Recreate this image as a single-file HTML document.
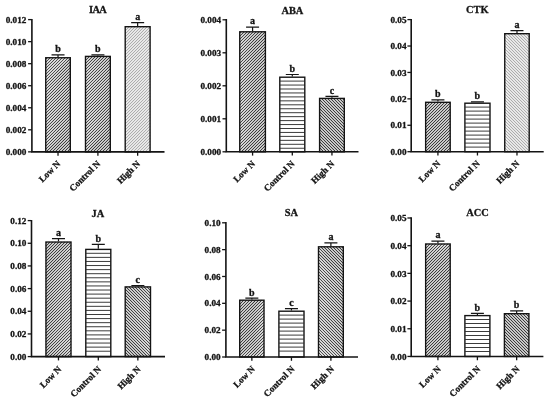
<!DOCTYPE html>
<html lang="en"><head><meta charset="utf-8"><title>Hormone contents under Low N, Control N and High N</title>
<style>
html,body{margin:0;padding:0;background:#fff;}
svg{display:block;}
text{font-family:"Liberation Serif","DejaVu Serif",serif;font-weight:bold;fill:#141414;stroke:#141414;stroke-width:0.3px;}
.t{font-size:10.4px;text-anchor:middle;}
.y{font-size:9.2px;text-anchor:end;}
.x{font-size:9.2px;text-anchor:end;}
.l{font-size:10px;text-anchor:middle;}
</style></head><body>
<svg width="550" height="404" viewBox="0 0 550 404">
<rect width="550" height="404" fill="#fff"/>

<g>
<text class="t" x="97.6" y="13.3" letter-spacing="-0.6">IAA</text>
<path d="M45.75 59.25L47.25 57.75M45.75 62.25L50.25 57.75M45.75 65.25L53.25 57.75M45.75 68.25L56.25 57.75M45.75 71.25L59.25 57.75M45.75 74.25L62.25 57.75M45.75 77.25L65.25 57.75M45.75 80.25L68.25 57.75M45.75 83.25L70.30 58.70M45.75 86.25L70.30 61.70M45.75 89.25L70.30 64.70M45.75 92.25L70.30 67.70M45.75 95.25L70.30 70.70M45.75 98.25L70.30 73.70M45.75 101.25L70.30 76.70M45.75 104.25L70.30 79.70M45.75 107.25L70.30 82.70M45.75 110.25L70.30 85.70M45.75 113.25L70.30 88.70M45.75 116.25L70.30 91.70M45.75 119.25L70.30 94.70M45.75 122.25L70.30 97.70M45.75 125.25L70.30 100.70M45.75 128.25L70.30 103.70M45.75 131.25L70.30 106.70M45.75 134.25L70.30 109.70M45.75 137.25L70.30 112.70M45.75 140.25L70.30 115.70M45.75 143.25L70.30 118.70M45.75 146.25L70.30 121.70M45.75 149.25L70.30 124.70M46.15 151.85L70.30 127.70M49.15 151.85L70.30 130.70M52.15 151.85L70.30 133.70M55.15 151.85L70.30 136.70M58.15 151.85L70.30 139.70M61.15 151.85L70.30 142.70M64.15 151.85L70.30 145.70M67.15 151.85L70.30 148.70M70.15 151.85L70.30 151.70" stroke="#303030" stroke-width="1.02" fill="none"/>
<rect x="45.75" y="57.75" width="24.55" height="94.10" fill="none" stroke="#141414" stroke-width="1.4"/>
<path d="M58.02 57.05V54.80M51.52 54.80H64.53" stroke="#141414" stroke-width="1.2" fill="none"/>
<text class="l" x="58.0" y="51.6">b</text>
<path d="M58.02 151.85V155.65" stroke="#141414" stroke-width="1.3"/>
<text class="x" transform="translate(61.0 164.2) rotate(-45)">Low N</text>
<path d="M85.50 57.50L86.60 56.40M85.50 60.50L89.60 56.40M85.50 63.50L92.60 56.40M85.50 66.50L95.60 56.40M85.50 69.50L98.60 56.40M85.50 72.50L101.60 56.40M85.50 75.50L104.60 56.40M85.50 78.50L107.60 56.40M85.50 81.50L110.30 56.70M85.50 84.50L110.30 59.70M85.50 87.50L110.30 62.70M85.50 90.50L110.30 65.70M85.50 93.50L110.30 68.70M85.50 96.50L110.30 71.70M85.50 99.50L110.30 74.70M85.50 102.50L110.30 77.70M85.50 105.50L110.30 80.70M85.50 108.50L110.30 83.70M85.50 111.50L110.30 86.70M85.50 114.50L110.30 89.70M85.50 117.50L110.30 92.70M85.50 120.50L110.30 95.70M85.50 123.50L110.30 98.70M85.50 126.50L110.30 101.70M85.50 129.50L110.30 104.70M85.50 132.50L110.30 107.70M85.50 135.50L110.30 110.70M85.50 138.50L110.30 113.70M85.50 141.50L110.30 116.70M85.50 144.50L110.30 119.70M85.50 147.50L110.30 122.70M85.50 150.50L110.30 125.70M87.15 151.85L110.30 128.70M90.15 151.85L110.30 131.70M93.15 151.85L110.30 134.70M96.15 151.85L110.30 137.70M99.15 151.85L110.30 140.70M102.15 151.85L110.30 143.70M105.15 151.85L110.30 146.70M108.15 151.85L110.30 149.70" stroke="#303030" stroke-width="1.02" fill="none"/>
<rect x="85.50" y="56.40" width="24.80" height="95.45" fill="none" stroke="#141414" stroke-width="1.4"/>
<path d="M97.90 55.70V54.80M91.40 54.80H104.40" stroke="#141414" stroke-width="1.2" fill="none"/>
<text class="l" x="97.9" y="51.9">b</text>
<path d="M97.90 151.85V155.65" stroke="#141414" stroke-width="1.3"/>
<text class="x" transform="translate(100.9 164.2) rotate(-45)">Control N</text>
<path d="M125.20 27.80L126.30 26.70M125.20 30.80L129.30 26.70M125.20 33.80L132.30 26.70M125.20 36.80L135.30 26.70M125.20 39.80L138.30 26.70M125.20 42.80L141.30 26.70M125.20 45.80L144.30 26.70M125.20 48.80L147.30 26.70M125.20 51.80L150.10 26.90M125.20 54.80L150.10 29.90M125.20 57.80L150.10 32.90M125.20 60.80L150.10 35.90M125.20 63.80L150.10 38.90M125.20 66.80L150.10 41.90M125.20 69.80L150.10 44.90M125.20 72.80L150.10 47.90M125.20 75.80L150.10 50.90M125.20 78.80L150.10 53.90M125.20 81.80L150.10 56.90M125.20 84.80L150.10 59.90M125.20 87.80L150.10 62.90M125.20 90.80L150.10 65.90M125.20 93.80L150.10 68.90M125.20 96.80L150.10 71.90M125.20 99.80L150.10 74.90M125.20 102.80L150.10 77.90M125.20 105.80L150.10 80.90M125.20 108.80L150.10 83.90M125.20 111.80L150.10 86.90M125.20 114.80L150.10 89.90M125.20 117.80L150.10 92.90M125.20 120.80L150.10 95.90M125.20 123.80L150.10 98.90M125.20 126.80L150.10 101.90M125.20 129.80L150.10 104.90M125.20 132.80L150.10 107.90M125.20 135.80L150.10 110.90M125.20 138.80L150.10 113.90M125.20 141.80L150.10 116.90M125.20 144.80L150.10 119.90M125.20 147.80L150.10 122.90M125.20 150.80L150.10 125.90M127.15 151.85L150.10 128.90M130.15 151.85L150.10 131.90M133.15 151.85L150.10 134.90M136.15 151.85L150.10 137.90M139.15 151.85L150.10 140.90M142.15 151.85L150.10 143.90M145.15 151.85L150.10 146.90M148.15 151.85L150.10 149.90" stroke="#a8a8a8" stroke-width="1.02" fill="none"/>
<rect x="125.20" y="26.70" width="24.90" height="125.15" fill="none" stroke="#141414" stroke-width="1.4"/>
<path d="M137.65 26.00V22.70M131.15 22.70H144.15" stroke="#141414" stroke-width="1.2" fill="none"/>
<text class="l" x="137.7" y="20.3">a</text>
<path d="M137.65 151.85V155.65" stroke="#141414" stroke-width="1.3"/>
<text class="x" transform="translate(140.7 164.2) rotate(-45)">High N</text>
<path d="M31.90 18.90V152.55M31.20 151.85H164.50" stroke="#141414" stroke-width="1.6" fill="none"/>
<path d="M28.10 151.85H31.90" stroke="#141414" stroke-width="1.3"/>
<text class="y" x="26.4" y="154.9">0.000</text>
<path d="M28.10 129.81H31.90" stroke="#141414" stroke-width="1.3"/>
<text class="y" x="26.4" y="132.9">0.002</text>
<path d="M28.10 107.77H31.90" stroke="#141414" stroke-width="1.3"/>
<text class="y" x="26.4" y="110.9">0.004</text>
<path d="M28.10 85.72H31.90" stroke="#141414" stroke-width="1.3"/>
<text class="y" x="26.4" y="88.8">0.006</text>
<path d="M28.10 63.68H31.90" stroke="#141414" stroke-width="1.3"/>
<text class="y" x="26.4" y="66.8">0.008</text>
<path d="M28.10 41.64H31.90" stroke="#141414" stroke-width="1.3"/>
<text class="y" x="26.4" y="44.7">0.010</text>
<path d="M28.10 19.60H31.90" stroke="#141414" stroke-width="1.3"/>
<text class="y" x="26.4" y="22.7">0.012</text>
</g>
<g>
<text class="t" x="292.4" y="13.6">ABA</text>
<path d="M239.75 33.25L241.20 31.80M239.75 36.25L244.20 31.80M239.75 39.25L247.20 31.80M239.75 42.25L250.20 31.80M239.75 45.25L253.20 31.80M239.75 48.25L256.20 31.80M239.75 51.25L259.20 31.80M239.75 54.25L262.20 31.80M239.75 57.25L265.20 31.80M239.75 60.25L265.40 34.60M239.75 63.25L265.40 37.60M239.75 66.25L265.40 40.60M239.75 69.25L265.40 43.60M239.75 72.25L265.40 46.60M239.75 75.25L265.40 49.60M239.75 78.25L265.40 52.60M239.75 81.25L265.40 55.60M239.75 84.25L265.40 58.60M239.75 87.25L265.40 61.60M239.75 90.25L265.40 64.60M239.75 93.25L265.40 67.60M239.75 96.25L265.40 70.60M239.75 99.25L265.40 73.60M239.75 102.25L265.40 76.60M239.75 105.25L265.40 79.60M239.75 108.25L265.40 82.60M239.75 111.25L265.40 85.60M239.75 114.25L265.40 88.60M239.75 117.25L265.40 91.60M239.75 120.25L265.40 94.60M239.75 123.25L265.40 97.60M239.75 126.25L265.40 100.60M239.75 129.25L265.40 103.60M239.75 132.25L265.40 106.60M239.75 135.25L265.40 109.60M239.75 138.25L265.40 112.60M239.75 141.25L265.40 115.60M239.75 144.25L265.40 118.60M239.75 147.25L265.40 121.60M239.75 150.25L265.40 124.60M241.20 151.80L265.40 127.60M244.20 151.80L265.40 130.60M247.20 151.80L265.40 133.60M250.20 151.80L265.40 136.60M253.20 151.80L265.40 139.60M256.20 151.80L265.40 142.60M259.20 151.80L265.40 145.60M262.20 151.80L265.40 148.60M265.20 151.80L265.40 151.60" stroke="#303030" stroke-width="1.02" fill="none"/>
<rect x="239.75" y="31.80" width="25.65" height="120.00" fill="none" stroke="#141414" stroke-width="1.4"/>
<path d="M252.58 31.10V27.05M246.08 27.05H259.08" stroke="#141414" stroke-width="1.2" fill="none"/>
<text class="l" x="252.6" y="24.1">a</text>
<path d="M252.58 151.80V155.60" stroke="#141414" stroke-width="1.3"/>
<text class="x" transform="translate(255.6 164.2) rotate(-45)">Low N</text>
<rect x="279.80" y="77.20" width="25.00" height="74.60" fill="#fff"/>
<path d="M280.10 81.10H304.50M280.10 85.05H304.50M280.10 89.00H304.50M280.10 92.95H304.50M280.10 96.90H304.50M280.10 100.85H304.50M280.10 104.80H304.50M280.10 108.75H304.50M280.10 112.70H304.50M280.10 116.65H304.50M280.10 120.60H304.50M280.10 124.55H304.50M280.10 128.50H304.50M280.10 132.45H304.50M280.10 136.40H304.50M280.10 140.35H304.50M280.10 144.30H304.50M280.10 148.25H304.50" stroke="#3c3c3c" stroke-width="1" fill="none"/>
<rect x="279.80" y="77.20" width="25.00" height="74.60" fill="none" stroke="#141414" stroke-width="1.4"/>
<path d="M292.30 76.50V74.50M285.80 74.50H298.80" stroke="#141414" stroke-width="1.2" fill="none"/>
<text class="l" x="292.3" y="72.0">b</text>
<path d="M292.30 151.80V155.60" stroke="#141414" stroke-width="1.3"/>
<text class="x" transform="translate(295.3 164.2) rotate(-45)">Control N</text>
<path d="M319.60 150.60L320.80 151.80M319.60 147.60L323.80 151.80M319.60 144.60L326.80 151.80M319.60 141.60L329.80 151.80M319.60 138.60L332.80 151.80M319.60 135.60L335.80 151.80M319.60 132.60L338.80 151.80M319.60 129.60L341.80 151.80M319.60 126.60L344.30 151.30M319.60 123.60L344.30 148.30M319.60 120.60L344.30 145.30M319.60 117.60L344.30 142.30M319.60 114.60L344.30 139.30M319.60 111.60L344.30 136.30M319.60 108.60L344.30 133.30M319.60 105.60L344.30 130.30M319.60 102.60L344.30 127.30M319.60 99.60L344.30 124.30M321.40 98.40L344.30 121.30M324.40 98.40L344.30 118.30M327.40 98.40L344.30 115.30M330.40 98.40L344.30 112.30M333.40 98.40L344.30 109.30M336.40 98.40L344.30 106.30M339.40 98.40L344.30 103.30M342.40 98.40L344.30 100.30" stroke="#303030" stroke-width="1.02" fill="none"/>
<rect x="319.60" y="98.40" width="24.70" height="53.40" fill="none" stroke="#141414" stroke-width="1.4"/>
<path d="M331.95 97.70V96.40M325.45 96.40H338.45" stroke="#141414" stroke-width="1.2" fill="none"/>
<text class="l" x="331.9" y="94.4">c</text>
<path d="M331.95 151.80V155.60" stroke="#141414" stroke-width="1.3"/>
<text class="x" transform="translate(334.9 164.2) rotate(-45)">High N</text>
<path d="M226.30 19.10V152.50M225.60 151.80H358.50" stroke="#141414" stroke-width="1.6" fill="none"/>
<path d="M222.50 151.80H226.30" stroke="#141414" stroke-width="1.3"/>
<text class="y" x="221.1" y="154.9">0.000</text>
<path d="M222.50 118.80H226.30" stroke="#141414" stroke-width="1.3"/>
<text class="y" x="221.1" y="121.9">0.001</text>
<path d="M222.50 85.80H226.30" stroke="#141414" stroke-width="1.3"/>
<text class="y" x="221.1" y="88.9">0.002</text>
<path d="M222.50 52.80H226.30" stroke="#141414" stroke-width="1.3"/>
<text class="y" x="221.1" y="55.9">0.003</text>
<path d="M222.50 19.80H226.30" stroke="#141414" stroke-width="1.3"/>
<text class="y" x="221.1" y="22.9">0.004</text>
</g>
<g>
<text class="t" x="477.3" y="13.3">CTK</text>
<path d="M425.65 103.35L426.70 102.30M425.65 106.35L429.70 102.30M425.65 109.35L432.70 102.30M425.65 112.35L435.70 102.30M425.65 115.35L438.70 102.30M425.65 118.35L441.70 102.30M425.65 121.35L444.70 102.30M425.65 124.35L447.70 102.30M425.65 127.35L450.20 102.80M425.65 130.35L450.20 105.80M425.65 133.35L450.20 108.80M425.65 136.35L450.20 111.80M425.65 139.35L450.20 114.80M425.65 142.35L450.20 117.80M425.65 145.35L450.20 120.80M425.65 148.35L450.20 123.80M425.65 151.35L450.20 126.80M428.30 151.70L450.20 129.80M431.30 151.70L450.20 132.80M434.30 151.70L450.20 135.80M437.30 151.70L450.20 138.80M440.30 151.70L450.20 141.80M443.30 151.70L450.20 144.80M446.30 151.70L450.20 147.80M449.30 151.70L450.20 150.80" stroke="#303030" stroke-width="1.02" fill="none"/>
<rect x="425.65" y="102.30" width="24.55" height="49.40" fill="none" stroke="#141414" stroke-width="1.4"/>
<path d="M437.92 101.60V99.80M431.42 99.80H444.42" stroke="#141414" stroke-width="1.2" fill="none"/>
<text class="l" x="437.9" y="97.3">b</text>
<path d="M437.92 151.70V155.50" stroke="#141414" stroke-width="1.3"/>
<text class="x" transform="translate(440.9 164.1) rotate(-45)">Low N</text>
<rect x="464.90" y="103.20" width="25.10" height="48.50" fill="#fff"/>
<path d="M465.20 107.10H489.70M465.20 111.10H489.70M465.20 115.10H489.70M465.20 119.10H489.70M465.20 123.10H489.70M465.20 127.10H489.70M465.20 131.10H489.70M465.20 135.10H489.70M465.20 139.10H489.70M465.20 143.10H489.70M465.20 147.10H489.70" stroke="#3c3c3c" stroke-width="1" fill="none"/>
<rect x="464.90" y="103.20" width="25.10" height="48.50" fill="none" stroke="#141414" stroke-width="1.4"/>
<path d="M477.45 102.50V101.90M470.95 101.90H483.95" stroke="#141414" stroke-width="1.2" fill="none"/>
<text class="l" x="477.4" y="98.8">b</text>
<path d="M477.45 151.70V155.50" stroke="#141414" stroke-width="1.3"/>
<text class="x" transform="translate(480.4 164.1) rotate(-45)">Control N</text>
<path d="M504.75 150.75L505.70 151.70M504.75 147.75L508.70 151.70M504.75 144.75L511.70 151.70M504.75 141.75L514.70 151.70M504.75 138.75L517.70 151.70M504.75 135.75L520.70 151.70M504.75 132.75L523.70 151.70M504.75 129.75L526.70 151.70M504.75 126.75L529.20 151.20M504.75 123.75L529.20 148.20M504.75 120.75L529.20 145.20M504.75 117.75L529.20 142.20M504.75 114.75L529.20 139.20M504.75 111.75L529.20 136.20M504.75 108.75L529.20 133.20M504.75 105.75L529.20 130.20M504.75 102.75L529.20 127.20M504.75 99.75L529.20 124.20M504.75 96.75L529.20 121.20M504.75 93.75L529.20 118.20M504.75 90.75L529.20 115.20M504.75 87.75L529.20 112.20M504.75 84.75L529.20 109.20M504.75 81.75L529.20 106.20M504.75 78.75L529.20 103.20M504.75 75.75L529.20 100.20M504.75 72.75L529.20 97.20M504.75 69.75L529.20 94.20M504.75 66.75L529.20 91.20M504.75 63.75L529.20 88.20M504.75 60.75L529.20 85.20M504.75 57.75L529.20 82.20M504.75 54.75L529.20 79.20M504.75 51.75L529.20 76.20M504.75 48.75L529.20 73.20M504.75 45.75L529.20 70.20M504.75 42.75L529.20 67.20M504.75 39.75L529.20 64.20M504.75 36.75L529.20 61.20M504.75 33.75L529.20 58.20M507.70 33.70L529.20 55.20M510.70 33.70L529.20 52.20M513.70 33.70L529.20 49.20M516.70 33.70L529.20 46.20M519.70 33.70L529.20 43.20M522.70 33.70L529.20 40.20M525.70 33.70L529.20 37.20M528.70 33.70L529.20 34.20" stroke="#a8a8a8" stroke-width="1.02" fill="none"/>
<rect x="504.75" y="33.70" width="24.45" height="118.00" fill="none" stroke="#141414" stroke-width="1.4"/>
<path d="M516.98 33.00V30.60M510.48 30.60H523.48" stroke="#141414" stroke-width="1.2" fill="none"/>
<text class="l" x="517.0" y="28.2">a</text>
<path d="M516.98 151.70V155.50" stroke="#141414" stroke-width="1.3"/>
<text class="x" transform="translate(520.0 164.1) rotate(-45)">High N</text>
<path d="M411.20 18.90V152.40M410.50 151.70H543.70" stroke="#141414" stroke-width="1.6" fill="none"/>
<path d="M407.40 151.70H411.20" stroke="#141414" stroke-width="1.3"/>
<text class="y" x="406.5" y="154.8">0.00</text>
<path d="M407.40 125.28H411.20" stroke="#141414" stroke-width="1.3"/>
<text class="y" x="406.5" y="128.4">0.01</text>
<path d="M407.40 98.86H411.20" stroke="#141414" stroke-width="1.3"/>
<text class="y" x="406.5" y="102.0">0.02</text>
<path d="M407.40 72.44H411.20" stroke="#141414" stroke-width="1.3"/>
<text class="y" x="406.5" y="75.5">0.03</text>
<path d="M407.40 46.02H411.20" stroke="#141414" stroke-width="1.3"/>
<text class="y" x="406.5" y="49.1">0.04</text>
<path d="M407.40 19.60H411.20" stroke="#141414" stroke-width="1.3"/>
<text class="y" x="406.5" y="22.7">0.05</text>
</g>
<g>
<text class="t" x="97.8" y="216.5">JA</text>
<path d="M45.95 243.05L46.95 242.05M45.95 246.05L49.95 242.05M45.95 249.05L52.95 242.05M45.95 252.05L55.95 242.05M45.95 255.05L58.95 242.05M45.95 258.05L61.95 242.05M45.95 261.05L64.95 242.05M45.95 264.05L67.95 242.05M45.95 267.05L70.95 242.05M45.95 270.05L71.00 245.00M45.95 273.05L71.00 248.00M45.95 276.05L71.00 251.00M45.95 279.05L71.00 254.00M45.95 282.05L71.00 257.00M45.95 285.05L71.00 260.00M45.95 288.05L71.00 263.00M45.95 291.05L71.00 266.00M45.95 294.05L71.00 269.00M45.95 297.05L71.00 272.00M45.95 300.05L71.00 275.00M45.95 303.05L71.00 278.00M45.95 306.05L71.00 281.00M45.95 309.05L71.00 284.00M45.95 312.05L71.00 287.00M45.95 315.05L71.00 290.00M45.95 318.05L71.00 293.00M45.95 321.05L71.00 296.00M45.95 324.05L71.00 299.00M45.95 327.05L71.00 302.00M45.95 330.05L71.00 305.00M45.95 333.05L71.00 308.00M45.95 336.05L71.00 311.00M45.95 339.05L71.00 314.00M45.95 342.05L71.00 317.00M45.95 345.05L71.00 320.00M45.95 348.05L71.00 323.00M45.95 351.05L71.00 326.00M45.95 354.05L71.00 329.00M46.40 356.60L71.00 332.00M49.40 356.60L71.00 335.00M52.40 356.60L71.00 338.00M55.40 356.60L71.00 341.00M58.40 356.60L71.00 344.00M61.40 356.60L71.00 347.00M64.40 356.60L71.00 350.00M67.40 356.60L71.00 353.00M70.40 356.60L71.00 356.00" stroke="#303030" stroke-width="1.02" fill="none"/>
<rect x="45.95" y="242.05" width="25.05" height="114.55" fill="none" stroke="#141414" stroke-width="1.4"/>
<path d="M58.48 241.35V238.70M51.98 238.70H64.97" stroke="#141414" stroke-width="1.2" fill="none"/>
<text class="l" x="58.5" y="236.4">a</text>
<path d="M58.48 356.60V360.40" stroke="#141414" stroke-width="1.3"/>
<text class="x" transform="translate(62.0 369.8) rotate(-45)">Low N</text>
<rect x="85.80" y="249.40" width="25.00" height="107.20" fill="#fff"/>
<path d="M86.10 253.30H110.50M86.10 257.38H110.50M86.10 261.46H110.50M86.10 265.54H110.50M86.10 269.62H110.50M86.10 273.70H110.50M86.10 277.78H110.50M86.10 281.86H110.50M86.10 285.94H110.50M86.10 290.02H110.50M86.10 294.10H110.50M86.10 298.18H110.50M86.10 302.26H110.50M86.10 306.34H110.50M86.10 310.42H110.50M86.10 314.50H110.50M86.10 318.58H110.50M86.10 322.66H110.50M86.10 326.74H110.50M86.10 330.82H110.50M86.10 334.90H110.50M86.10 338.98H110.50M86.10 343.06H110.50M86.10 347.14H110.50M86.10 351.22H110.50" stroke="#3c3c3c" stroke-width="1" fill="none"/>
<rect x="85.80" y="249.40" width="25.00" height="107.20" fill="none" stroke="#141414" stroke-width="1.4"/>
<path d="M98.30 248.70V244.40M91.80 244.40H104.80" stroke="#141414" stroke-width="1.2" fill="none"/>
<text class="l" x="98.3" y="241.6">b</text>
<path d="M98.30 356.60V360.40" stroke="#141414" stroke-width="1.3"/>
<text class="x" transform="translate(101.8 369.8) rotate(-45)">Control N</text>
<path d="M125.20 355.20L126.60 356.60M125.20 352.20L129.60 356.60M125.20 349.20L132.60 356.60M125.20 346.20L135.60 356.60M125.20 343.20L138.60 356.60M125.20 340.20L141.60 356.60M125.20 337.20L144.60 356.60M125.20 334.20L147.60 356.60M125.20 331.20L150.50 356.50M125.20 328.20L150.50 353.50M125.20 325.20L150.50 350.50M125.20 322.20L150.50 347.50M125.20 319.20L150.50 344.50M125.20 316.20L150.50 341.50M125.20 313.20L150.50 338.50M125.20 310.20L150.50 335.50M125.20 307.20L150.50 332.50M125.20 304.20L150.50 329.50M125.20 301.20L150.50 326.50M125.20 298.20L150.50 323.50M125.20 295.20L150.50 320.50M125.20 292.20L150.50 317.50M125.20 289.20L150.50 314.50M125.90 286.90L150.50 311.50M128.90 286.90L150.50 308.50M131.90 286.90L150.50 305.50M134.90 286.90L150.50 302.50M137.90 286.90L150.50 299.50M140.90 286.90L150.50 296.50M143.90 286.90L150.50 293.50M146.90 286.90L150.50 290.50M149.90 286.90L150.50 287.50" stroke="#303030" stroke-width="1.02" fill="none"/>
<rect x="125.20" y="286.90" width="25.30" height="69.70" fill="none" stroke="#141414" stroke-width="1.4"/>
<path d="M137.85 286.20V285.50M131.35 285.50H144.35" stroke="#141414" stroke-width="1.2" fill="none"/>
<text class="l" x="137.8" y="283.1">c</text>
<path d="M137.85 356.60V360.40" stroke="#141414" stroke-width="1.3"/>
<text class="x" transform="translate(141.3 369.8) rotate(-45)">High N</text>
<path d="M31.50 219.90V357.30M30.80 356.60H165.00" stroke="#141414" stroke-width="1.6" fill="none"/>
<path d="M27.70 356.60H31.50" stroke="#141414" stroke-width="1.3"/>
<text class="y" x="26.4" y="359.7">0.00</text>
<path d="M27.70 333.93H31.50" stroke="#141414" stroke-width="1.3"/>
<text class="y" x="26.4" y="337.0">0.02</text>
<path d="M27.70 311.27H31.50" stroke="#141414" stroke-width="1.3"/>
<text class="y" x="26.4" y="314.4">0.04</text>
<path d="M27.70 288.60H31.50" stroke="#141414" stroke-width="1.3"/>
<text class="y" x="26.4" y="291.7">0.06</text>
<path d="M27.70 265.93H31.50" stroke="#141414" stroke-width="1.3"/>
<text class="y" x="26.4" y="269.0">0.08</text>
<path d="M27.70 243.27H31.50" stroke="#141414" stroke-width="1.3"/>
<text class="y" x="26.4" y="246.4">0.10</text>
<path d="M27.70 220.60H31.50" stroke="#141414" stroke-width="1.3"/>
<text class="y" x="26.4" y="223.7">0.12</text>
</g>
<g>
<text class="t" x="291.3" y="215.5">SA</text>
<path d="M239.70 301.30L240.80 300.20M239.70 304.30L243.80 300.20M239.70 307.30L246.80 300.20M239.70 310.30L249.80 300.20M239.70 313.30L252.80 300.20M239.70 316.30L255.80 300.20M239.70 319.30L258.80 300.20M239.70 322.30L261.80 300.20M239.70 325.30L264.00 301.00M239.70 328.30L264.00 304.00M239.70 331.30L264.00 307.00M239.70 334.30L264.00 310.00M239.70 337.30L264.00 313.00M239.70 340.30L264.00 316.00M239.70 343.30L264.00 319.00M239.70 346.30L264.00 322.00M239.70 349.30L264.00 325.00M239.70 352.30L264.00 328.00M239.70 355.30L264.00 331.00M241.00 357.00L264.00 334.00M244.00 357.00L264.00 337.00M247.00 357.00L264.00 340.00M250.00 357.00L264.00 343.00M253.00 357.00L264.00 346.00M256.00 357.00L264.00 349.00M259.00 357.00L264.00 352.00M262.00 357.00L264.00 355.00" stroke="#303030" stroke-width="1.02" fill="none"/>
<rect x="239.70" y="300.20" width="24.30" height="56.80" fill="none" stroke="#141414" stroke-width="1.4"/>
<path d="M251.85 299.50V298.05M245.35 298.05H258.35" stroke="#141414" stroke-width="1.2" fill="none"/>
<text class="l" x="251.8" y="295.5">b</text>
<path d="M251.85 357.00V360.80" stroke="#141414" stroke-width="1.3"/>
<text class="x" transform="translate(255.5 369.6) rotate(-45)">Low N</text>
<rect x="278.90" y="311.20" width="25.10" height="45.80" fill="#fff"/>
<path d="M279.20 315.10H303.70M279.20 319.10H303.70M279.20 323.10H303.70M279.20 327.10H303.70M279.20 331.10H303.70M279.20 335.10H303.70M279.20 339.10H303.70M279.20 343.10H303.70M279.20 347.10H303.70M279.20 351.10H303.70" stroke="#3c3c3c" stroke-width="1" fill="none"/>
<rect x="278.90" y="311.20" width="25.10" height="45.80" fill="none" stroke="#141414" stroke-width="1.4"/>
<path d="M291.45 310.50V308.70M284.95 308.70H297.95" stroke="#141414" stroke-width="1.2" fill="none"/>
<text class="l" x="291.4" y="305.9">c</text>
<path d="M291.45 357.00V360.80" stroke="#141414" stroke-width="1.3"/>
<text class="x" transform="translate(295.1 369.6) rotate(-45)">Control N</text>
<path d="M318.50 355.50L320.00 357.00M318.50 352.50L323.00 357.00M318.50 349.50L326.00 357.00M318.50 346.50L329.00 357.00M318.50 343.50L332.00 357.00M318.50 340.50L335.00 357.00M318.50 337.50L338.00 357.00M318.50 334.50L341.00 357.00M318.50 331.50L343.30 356.30M318.50 328.50L343.30 353.30M318.50 325.50L343.30 350.30M318.50 322.50L343.30 347.30M318.50 319.50L343.30 344.30M318.50 316.50L343.30 341.30M318.50 313.50L343.30 338.30M318.50 310.50L343.30 335.30M318.50 307.50L343.30 332.30M318.50 304.50L343.30 329.30M318.50 301.50L343.30 326.30M318.50 298.50L343.30 323.30M318.50 295.50L343.30 320.30M318.50 292.50L343.30 317.30M318.50 289.50L343.30 314.30M318.50 286.50L343.30 311.30M318.50 283.50L343.30 308.30M318.50 280.50L343.30 305.30M318.50 277.50L343.30 302.30M318.50 274.50L343.30 299.30M318.50 271.50L343.30 296.30M318.50 268.50L343.30 293.30M318.50 265.50L343.30 290.30M318.50 262.50L343.30 287.30M318.50 259.50L343.30 284.30M318.50 256.50L343.30 281.30M318.50 253.50L343.30 278.30M318.50 250.50L343.30 275.30M318.50 247.50L343.30 272.30M320.80 246.80L343.30 269.30M323.80 246.80L343.30 266.30M326.80 246.80L343.30 263.30M329.80 246.80L343.30 260.30M332.80 246.80L343.30 257.30M335.80 246.80L343.30 254.30M338.80 246.80L343.30 251.30M341.80 246.80L343.30 248.30" stroke="#303030" stroke-width="1.02" fill="none"/>
<rect x="318.50" y="246.80" width="24.80" height="110.20" fill="none" stroke="#141414" stroke-width="1.4"/>
<path d="M330.90 246.10V242.95M324.40 242.95H337.40" stroke="#141414" stroke-width="1.2" fill="none"/>
<text class="l" x="330.9" y="240.2">a</text>
<path d="M330.90 357.00V360.80" stroke="#141414" stroke-width="1.3"/>
<text class="x" transform="translate(334.6 369.6) rotate(-45)">High N</text>
<path d="M225.90 222.10V357.70M225.20 357.00H358.00" stroke="#141414" stroke-width="1.6" fill="none"/>
<path d="M222.10 357.00H225.90" stroke="#141414" stroke-width="1.3"/>
<text class="y" x="220.7" y="360.1">0.00</text>
<path d="M222.10 330.16H225.90" stroke="#141414" stroke-width="1.3"/>
<text class="y" x="220.7" y="333.3">0.02</text>
<path d="M222.10 303.32H225.90" stroke="#141414" stroke-width="1.3"/>
<text class="y" x="220.7" y="306.4">0.04</text>
<path d="M222.10 276.48H225.90" stroke="#141414" stroke-width="1.3"/>
<text class="y" x="220.7" y="279.6">0.06</text>
<path d="M222.10 249.64H225.90" stroke="#141414" stroke-width="1.3"/>
<text class="y" x="220.7" y="252.7">0.08</text>
<path d="M222.10 222.80H225.90" stroke="#141414" stroke-width="1.3"/>
<text class="y" x="220.7" y="225.9">0.10</text>
</g>
<g>
<text class="t" x="477.5" y="216.2">ACC</text>
<path d="M425.65 245.35L427.00 244.00M425.65 248.35L430.00 244.00M425.65 251.35L433.00 244.00M425.65 254.35L436.00 244.00M425.65 257.35L439.00 244.00M425.65 260.35L442.00 244.00M425.65 263.35L445.00 244.00M425.65 266.35L448.00 244.00M425.65 269.35L450.20 244.80M425.65 272.35L450.20 247.80M425.65 275.35L450.20 250.80M425.65 278.35L450.20 253.80M425.65 281.35L450.20 256.80M425.65 284.35L450.20 259.80M425.65 287.35L450.20 262.80M425.65 290.35L450.20 265.80M425.65 293.35L450.20 268.80M425.65 296.35L450.20 271.80M425.65 299.35L450.20 274.80M425.65 302.35L450.20 277.80M425.65 305.35L450.20 280.80M425.65 308.35L450.20 283.80M425.65 311.35L450.20 286.80M425.65 314.35L450.20 289.80M425.65 317.35L450.20 292.80M425.65 320.35L450.20 295.80M425.65 323.35L450.20 298.80M425.65 326.35L450.20 301.80M425.65 329.35L450.20 304.80M425.65 332.35L450.20 307.80M425.65 335.35L450.20 310.80M425.65 338.35L450.20 313.80M425.65 341.35L450.20 316.80M425.65 344.35L450.20 319.80M425.65 347.35L450.20 322.80M425.65 350.35L450.20 325.80M425.65 353.35L450.20 328.80M425.65 356.35L450.20 331.80M428.55 356.45L450.20 334.80M431.55 356.45L450.20 337.80M434.55 356.45L450.20 340.80M437.55 356.45L450.20 343.80M440.55 356.45L450.20 346.80M443.55 356.45L450.20 349.80M446.55 356.45L450.20 352.80M449.55 356.45L450.20 355.80" stroke="#303030" stroke-width="1.02" fill="none"/>
<rect x="425.65" y="244.00" width="24.55" height="112.45" fill="none" stroke="#141414" stroke-width="1.4"/>
<path d="M437.92 243.30V241.05M431.42 241.05H444.42" stroke="#141414" stroke-width="1.2" fill="none"/>
<text class="l" x="437.9" y="238.3">a</text>
<path d="M437.92 356.45V360.25" stroke="#141414" stroke-width="1.3"/>
<text class="x" transform="translate(441.4 369.6) rotate(-45)">Low N</text>
<rect x="464.90" y="315.60" width="25.00" height="40.85" fill="#fff"/>
<path d="M465.20 319.50H489.60M465.20 323.50H489.60M465.20 327.50H489.60M465.20 331.50H489.60M465.20 335.50H489.60M465.20 339.50H489.60M465.20 343.50H489.60M465.20 347.50H489.60M465.20 351.50H489.60" stroke="#3c3c3c" stroke-width="1" fill="none"/>
<rect x="464.90" y="315.60" width="25.00" height="40.85" fill="none" stroke="#141414" stroke-width="1.4"/>
<path d="M477.40 314.90V313.30M470.90 313.30H483.90" stroke="#141414" stroke-width="1.2" fill="none"/>
<text class="l" x="477.4" y="310.5">b</text>
<path d="M477.40 356.45V360.25" stroke="#141414" stroke-width="1.3"/>
<text class="x" transform="translate(480.9 369.6) rotate(-45)">Control N</text>
<path d="M504.40 355.40L505.45 356.45M504.40 352.40L508.45 356.45M504.40 349.40L511.45 356.45M504.40 346.40L514.45 356.45M504.40 343.40L517.45 356.45M504.40 340.40L520.45 356.45M504.40 337.40L523.45 356.45M504.40 334.40L526.45 356.45M504.40 331.40L528.90 355.90M504.40 328.40L528.90 352.90M504.40 325.40L528.90 349.90M504.40 322.40L528.90 346.90M504.40 319.40L528.90 343.90M504.40 316.40L528.90 340.90M504.70 313.70L528.90 337.90M507.70 313.70L528.90 334.90M510.70 313.70L528.90 331.90M513.70 313.70L528.90 328.90M516.70 313.70L528.90 325.90M519.70 313.70L528.90 322.90M522.70 313.70L528.90 319.90M525.70 313.70L528.90 316.90M528.70 313.70L528.90 313.90" stroke="#303030" stroke-width="1.02" fill="none"/>
<rect x="504.40" y="313.70" width="24.50" height="42.75" fill="none" stroke="#141414" stroke-width="1.4"/>
<path d="M516.65 313.00V310.80M510.15 310.80H523.15" stroke="#141414" stroke-width="1.2" fill="none"/>
<text class="l" x="516.6" y="308.4">b</text>
<path d="M516.65 356.45V360.25" stroke="#141414" stroke-width="1.3"/>
<text class="x" transform="translate(520.1 369.6) rotate(-45)">High N</text>
<path d="M411.20 217.30V357.15M410.50 356.45H543.40" stroke="#141414" stroke-width="1.6" fill="none"/>
<path d="M407.40 356.45H411.20" stroke="#141414" stroke-width="1.3"/>
<text class="y" x="406.5" y="359.6">0.00</text>
<path d="M407.40 328.76H411.20" stroke="#141414" stroke-width="1.3"/>
<text class="y" x="406.5" y="331.9">0.01</text>
<path d="M407.40 301.07H411.20" stroke="#141414" stroke-width="1.3"/>
<text class="y" x="406.5" y="304.2">0.02</text>
<path d="M407.40 273.38H411.20" stroke="#141414" stroke-width="1.3"/>
<text class="y" x="406.5" y="276.5">0.03</text>
<path d="M407.40 245.69H411.20" stroke="#141414" stroke-width="1.3"/>
<text class="y" x="406.5" y="248.8">0.04</text>
<path d="M407.40 218.00H411.20" stroke="#141414" stroke-width="1.3"/>
<text class="y" x="406.5" y="221.1">0.05</text>
</g>
</svg></body></html>
